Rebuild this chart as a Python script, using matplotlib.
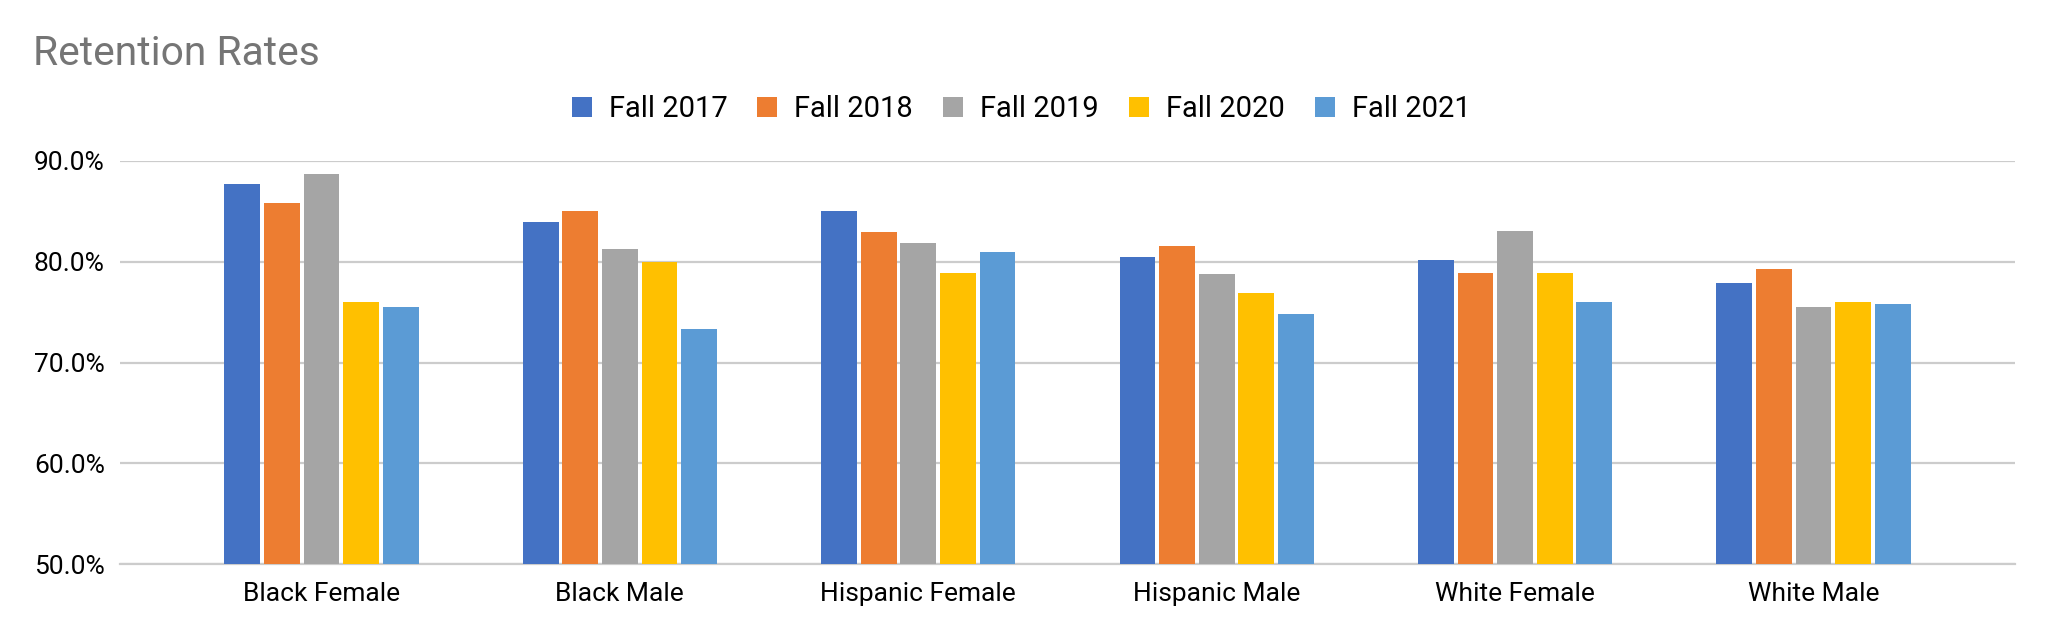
import matplotlib
matplotlib.use("Agg")
import matplotlib.pyplot as plt
import numpy as np
from matplotlib.ticker import FuncFormatter

categories = ["Black Female", "Black Male", "Hispanic Female", "Hispanic Male", "White Female", "White Male"]
series_names = ["Fall 2017", "Fall 2018", "Fall 2019", "Fall 2020", "Fall 2021"]
fall_2017 = [87.7, 83.9, 85.0, 80.5, 80.2, 77.9]
fall_2018 = [85.8, 85.0, 82.9, 81.5, 78.9, 79.3]
fall_2019 = [88.7, 81.2, 81.8, 78.8, 83.0, 75.5]
fall_2020 = [76.0, 80.0, 78.9, 76.9, 78.9, 76.0]
fall_2021 = [75.5, 73.3, 81.0, 74.8, 76.0, 75.8]
series_values = [fall_2017, fall_2018, fall_2019, fall_2020, fall_2021]
colors = ["#4472C4", "#ED7D31", "#A5A5A5", "#FFC000", "#5B9BD5"]
y_ticks = [50, 60, 70, 80, 90]

plt.rcParams['font.family'] = ['Roboto', 'DejaVu Sans']

W, H = 2048, 637
fig = plt.figure(figsize=(W / 100, H / 100), dpi=100)
left, right, bottom, top = 120, 2015, 564.3, 160.7
ax = fig.add_axes([left / W, 1 - bottom / H, (right - left) / W, (bottom - top) / H])

x = np.arange(len(categories))
pitch = 0.1327
width = 0.12
for i, (name, vals, c) in enumerate(zip(series_names, series_values, colors)):
    ax.bar(x + (i - 2) * pitch, [v - 50 for v in vals], bottom=50, width=width,
           color=c, label=name, zorder=3)

ax.set_xlim(-0.675, len(categories) - 1 + 0.675)
ax.set_ylim(50, 90)
ax.set_yticks(y_ticks)
ax.yaxis.set_major_formatter(FuncFormatter(lambda v, p: f"{v:.1f}%"))
ax.set_xticks(x)
ax.set_xticklabels(categories)
ax.grid(axis='y', color='#cccccc', linewidth=1.6, zorder=0)
ax.set_axisbelow(True)
for s in ['top', 'right', 'left']:
    ax.spines[s].set_visible(False)
ax.spines['bottom'].set_color('#cccccc')
ax.spines['bottom'].set_linewidth(1.6)
ax.tick_params(axis='both', length=0, labelsize=19, colors='#000000')
ax.tick_params(axis='y', pad=11)
ax.tick_params(axis='x', pad=13)

fig.text(33 / W, 1 - 65 / H, "Retention Rates", fontsize=29.3, color='#757575',
         ha='left', va='baseline')

leg = fig.legend(loc='center', bbox_to_anchor=(1021 / W, 1 - 109 / H), ncol=5,
                 frameon=False, fontsize=21, handlelength=0.69, handleheight=0.69,
                 handletextpad=0.58, columnspacing=1.03, borderpad=0)

fig.savefig("out.png", dpi=100)
